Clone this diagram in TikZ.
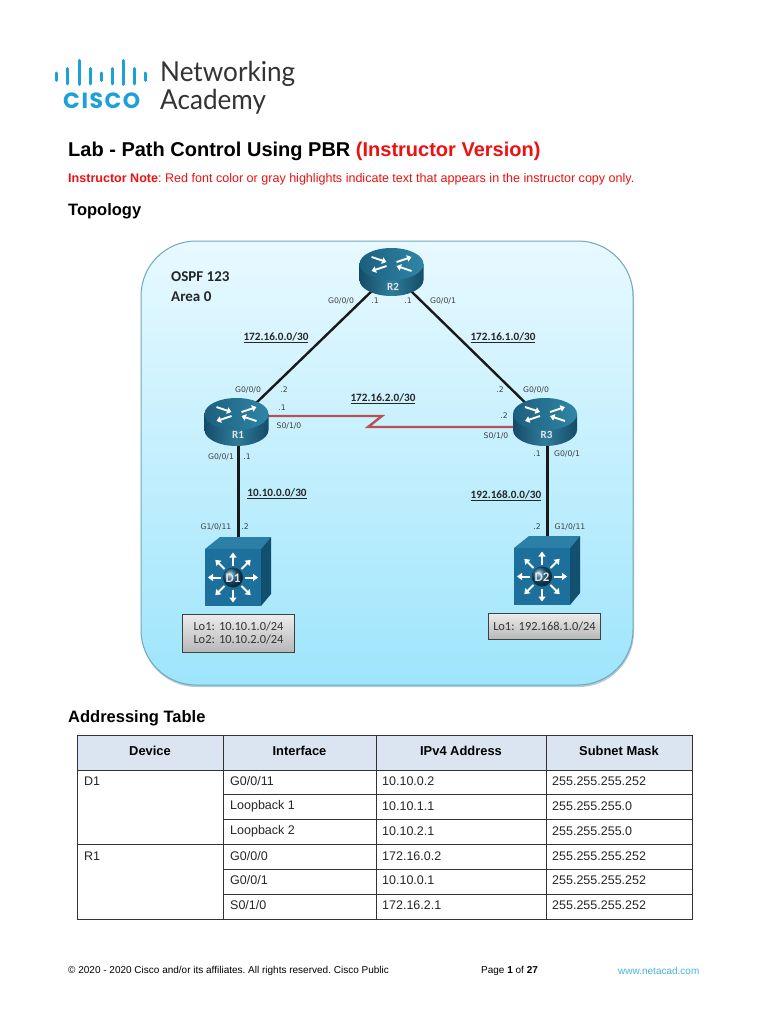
\documentclass[tikz,border=0pt]{standalone}
\usepackage{fontspec}
\setmainfont{Liberation Sans}
\newfontfamily\carl{Carlito}
\newfontfamily\dejav{DejaVu Sans}
\newfontfamily\lat[FakeStretch=0.95]{Lato}
\newfontfamily\cisc[LetterSpace=7]{Poppins}
\usetikzlibrary{arrows.meta,backgrounds,calc}
\definecolor{cblue}{HTML}{1BA0D7}
\definecolor{hdr}{HTML}{DBE5F1}
\definecolor{rule}{HTML}{333333}
\definecolor{serial}{HTML}{B85252}
\definecolor{redt}{HTML}{EE1111}
\definecolor{rtopL}{HTML}{1C5F7F}
\definecolor{rtopR}{HTML}{2F86A6}
\definecolor{rsideE}{HTML}{154B68}
\definecolor{rsideM}{HTML}{2E7D9B}
\definecolor{swfront}{HTML}{1D6F9C}
\definecolor{swtop}{HTML}{2C80A8}
\definecolor{swside}{HTML}{12506F}
\definecolor{swball}{HTML}{1A5C82}
\definecolor{paneltop}{HTML}{E8F9FF}
\definecolor{panelbot}{HTML}{9EE5FC}
\definecolor{panelrim}{HTML}{6FA9BA}
\definecolor{panelshadow}{HTML}{B4CBD4}
\newcommand{\fs}[1]{\fontsize{#1}{#1}\selectfont}
\newcommand{\offtext}[3]{\smash{\makebox[0pt]{\hspace*{#1}\raisebox{#2}{#3}}}}
\tikzset{
  x=1pt,y=-1pt,
  txt/.style={inner sep=0pt,anchor=west,text=black},
  pagehead/.style={txt,font=\frenchspacing\bfseries\fs{16.5}},
  ifl/.style={inner sep=0pt,text=black!75,font=\dejav\fs{7.7}},
  net/.style={inner sep=0pt,text=black!85,font=\carl\bfseries\fs{11.2}},
  area/.style={txt,font=\carl\bfseries\fs{15},text=black!85},
  routernode/.style={inner sep=0pt,minimum width=64pt,minimum height=48pt,text=white!90!black,font=\carl\bfseries\fs{11}},
  switchnode/.style={inner sep=0pt,minimum width=66pt,minimum height=69pt,text=white!90!black,font=\carl\bfseries\fs{13}},
  infobox/.style={draw=black!75,line width=1pt,top color=white!93!black,bottom color=black!28,align=center,
     text width=112pt,inner sep=0pt,font=\frenchspacing\carl\fs{12.4},text=black!80},
  cell/.style={txt,font=\fs{12.5},text=black!85},
  headcell/.style={inner sep=0pt,font=\bfseries\fs{12.9},text=black},
  grid/.style={draw=rule,line width=1pt},
  foot/.style={txt,font=\frenchspacing\fs{10}},
  wire/.style={line width=2.4pt,draw=black!90},
  serialwire/.style={line width=2.4pt,draw=serial,line join=miter},
  arw/.style={white,line width=1.9pt,-{Triangle[length=4.5pt,width=6.5pt]}},
  sarw/.style={white,line width=2pt,-{Triangle[length=5pt,width=7pt]}},
}
\newcommand{\routerbody}[2]{%
  \begin{scope}[shift={(#1,#2)}]
    \path[left color=rsideE,right color=rsideE,middle color=rsideM]
      (-32,-8) -- (-32,8) .. controls (-32,16.8) and (-17.6,24) .. (0,24)
      .. controls (17.6,24) and (32,16.8) .. (32,8) -- (32,-8) -- cycle;
    \path[left color=rtopL,right color=rtopR] (0,-8) ellipse [x radius=32,y radius=16];
    \draw[arw] (-20,-15) -- (-5,-10);
    \draw[arw] (20,-1) -- (5,-6);
    \draw[arw] (5,-10) -- (20,-15);
    \draw[arw] (-5,-6) -- (-20,-1);
  \end{scope}}
\newcommand{\switchbody}[2]{%
  \begin{scope}[shift={(#1,#2)}]
    \fill[swtop] (-33,-22.5) -- (-18,-34.5) -- (33,-34.5) -- (23,-22.5) -- cycle;
    \fill[swside] (23,-22.5) -- (33,-34.5) -- (33,22.5) -- (23,34.5) -- cycle;
    \fill[swfront] (-33,-22.5) rectangle (23,34.5);
    \foreach \a in {0,45,...,315}{
      \draw[sarw] ($(-5,6)+(\a:12)$) -- ($(-5,6)+(\a:25)$);
    }
    \shade[ball color=swball] (-5,6) circle [radius=10];
  \end{scope}}
\begin{document}
\begin{tikzpicture}
\useasboundingbox (0,0) rectangle (768,1024);
\begin{pgfonlayer}{background}
\fill[white] (0,0) rectangle (768,1024);
\end{pgfonlayer}

% logo
\foreach \xx/\a/\b in {56.7/73/80.5,67.7/68.5/84,79/60.5/84.5,90.3/68.5/84,101/73/80.5,112.3/68.5/84,123.3/60.5/84.5,134.7/68.5/84,145.7/73/80.5}{
  \draw[cblue,line width=3pt,line cap=round] (\xx,\a) -- (\xx,\b);
}
\node[inner sep=0pt,anchor=base west,text=cblue,font=\cisc\bfseries\fs{22}] (ciscoword) at (63,109) {CISCO};
\node[inner sep=0pt,anchor=base west,text=black!80,font=\lat\fs{27.5}] (netw) at (160,82) {Networking};
\node[inner sep=0pt,anchor=base west,text=black!80,font=\lat\fs{27.5}] (acad) at (160,110) {Academy};

% headings
\node[txt,font=\frenchspacing\bfseries\fs{20}] (title) at (68,151.5) {Lab - Path Control Using PBR \textcolor{redt}{(Instructor Version)}};
\node[txt,font=\frenchspacing\fs{12.55},text=redt] (note) at (68,179) {\textbf{Instructor Note}: Red font color or gray highlights indicate text that appears in the instructor copy only.};
\node[pagehead] (topo) at (68,211.5) {Topology};
\node[pagehead] (addr) at (68,718.5) {Addressing Table};

% panel
\begin{pgfonlayer}{background}
\fill[panelshadow,rounded corners=55pt] (141.5,243) rectangle (634,687);
\path[draw=panelrim,line width=1pt,rounded corners=55pt,top color=paneltop,bottom color=panelbot] (141,241) rectangle (633,685);
\end{pgfonlayer}

% devices
\routerbody{236.5}{422}
\routerbody{391.5}{272}
\routerbody{545}{422}
\switchbody{238}{571.5}
\switchbody{547}{570.5}
\node[routernode] (r1) at (236.5,422) {\offtext{3pt}{-16pt}{R1}};
\node[routernode] (r2) at (391.5,272) {\offtext{3pt}{-18pt}{R2}};
\node[routernode] (r3) at (545,422) {\offtext{3pt}{-16pt}{R3}};
\node[switchnode] (d1) at (238,571.5) {\offtext{-10pt}{-11pt}{D1}};
\node[switchnode] (d2) at (547,570.5) {\offtext{-10pt}{-11pt}{D2}};
\coordinate (zig1) at (382,416);
\coordinate (zig2) at (368,427);
\begin{pgfonlayer}{background}
\draw[wire] (r1.center) -- (r2.center);
\draw[wire] (r2.center) -- (r3.center);
\draw[serialwire] (zig1 -| r1) -- (zig1) -- (zig2) -- (zig2 -| r3);
\draw[wire,line width=3pt] (d1 |- r1.south) -- (d1.north);
\draw[wire,line width=3pt] (d2 |- r3.south) -- (d2.north);
\end{pgfonlayer}

% text in the panel
\node[area] (ospf) at (171,277) {OSPF 123};
\node[area] (area0) at (171,297) {Area 0};
\node[net] (n1) at (276,338) {\underline{172.16.0.0/30}};
\node[net] (n2) at (503,338) {\underline{172.16.1.0/30}};
\node[net] (n3) at (383,399) {\underline{172.16.2.0/30}};
\node[net] (n4) at (277,494) {\underline{10.10.0.0/30}};
\node[net] (n5) at (506,496) {\underline{192.168.0.0/30}};
\foreach \nm/\xx/\yy/\t in {a/341/301/G0\slash 0\slash 0,b/375/301/.1,c/408/301/.1,e/443/301/G0\slash 0\slash 1,
  f/248/390/G0\slash 0\slash 0,g/284/390/.2,h/282/408/.1,i/289/426/S0\slash 1\slash 0,j/221/457/G0\slash 0\slash 1,k/247/457/.1,
  l/500/390/.2,m/536/390/G0\slash 0\slash 0,o/504/416/.2,p/496/436/S0\slash 1\slash 0,q/537/454/.1,s/567/454/G0\slash 0\slash 1,
  t/216/527/G1\slash 0\slash 11,u/245/527/.2,v/537/527/.2,w/570/527/G1\slash 0\slash 11}{
  \node[ifl] (lab\nm) at (\xx,\yy) {\t};
}
\node[infobox,minimum height=38pt] (lo1) at (238.5,633) {Lo1: 10.10.1.0/24\\[1pt]Lo2: 10.10.2.0/24};
\node[infobox,minimum height=26pt] (lo2) at (544.5,626) {Lo1: 192.168.1.0/24};

% table
\fill[hdr] (77,735) rectangle (692,770);
\draw[grid] (77,735) rectangle (692,919);
\foreach \yy in {770,844.5}{\draw[grid] (77,\yy) -- (692,\yy);}
\foreach \yy in {794.5,819.5,869,894}{\draw[grid] (223,\yy) -- (692,\yy);}
\foreach \xx in {223,376,546}{\draw[grid] (\xx,735) -- (\xx,919);}
\node[headcell] (h1) at (150,751) {Device};
\node[headcell] (h2) at (299.5,751) {Interface};
\node[headcell] (h3) at (461,751) {IPv4 Address};
\node[headcell] (h4) at (619,751) {Subnet Mask};
\node[cell] (dev1) at (84,781) {D1};
\node[cell] (dev2) at (84,856) {R1};
\foreach \nm/\yy/\ia/\ib/\ic in {
  1/781/G0\slash 0\slash 11/10.10.0.2/255.255.255.252,
  2/806/Loopback 1/10.10.1.1/255.255.255.0,
  3/831/Loopback 2/10.10.2.1/255.255.255.0,
  4/856/G0\slash 0\slash 0/172.16.0.2/255.255.255.252,
  5/880/G0\slash 0\slash 1/10.10.0.1/255.255.255.252,
  6/905/S0\slash 1\slash 0/172.16.2.1/255.255.255.252}{
  \node[cell] (if\nm) at (230,\yy) {\ia};
  \node[cell] (ip\nm) at (382,\yy) {\ib};
  \node[cell] (sm\nm) at (552,\yy) {\ic};
}

% footer
\node[foot] (f1) at (68,971) {© 2020 - 2020 Cisco and/or its affiliates. All rights reserved. Cisco Public};
\node[foot] (f2) at (481,971) {Page \textbf{1} of \textbf{27}};
\node[foot,text=cblue!80!white] (f3) at (618,971) {www.netacad.com};
\end{tikzpicture}
\end{document}
